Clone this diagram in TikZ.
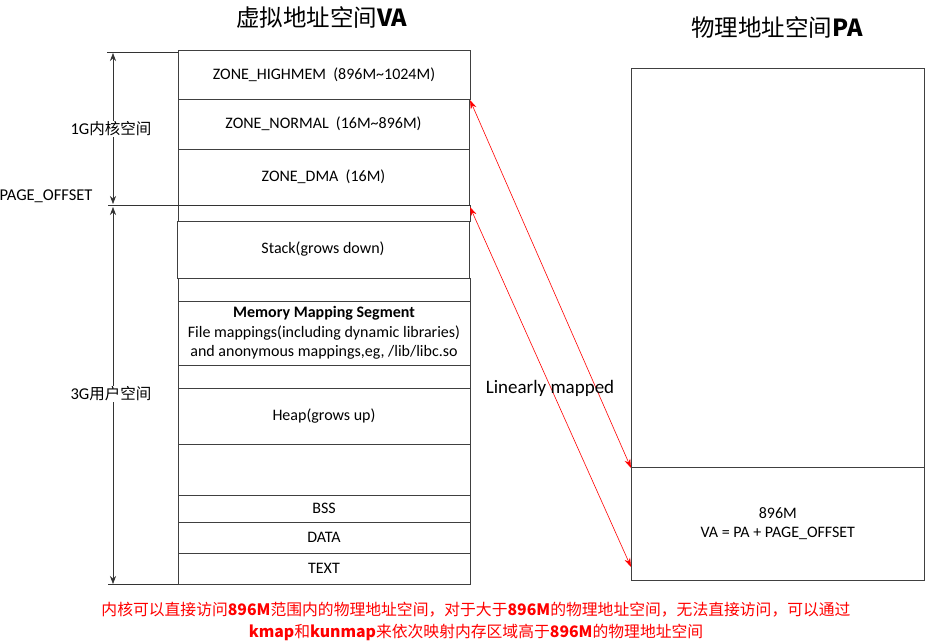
\documentclass[tikz,border=0pt]{standalone}
\usepackage{fontspec}
\setmainfont{Carlito}
\newfontfamily\cjk{Noto Sans CJK SC}
\usetikzlibrary{arrows.meta}
\begin{document}
\begin{tikzpicture}[x=1pt,y=-1pt,
  seg/.style={draw=black!75,fill=white,line width=0.6pt,font=\fontsize{16}{19.5}\selectfont,align=center,inner sep=0pt},
  lbl/.style={font=\fontsize{16.5}{18}\selectfont},
  dim/.style={draw=black!80,line width=0.6pt,-{Stealth[length=8pt,width=6pt]}},
  red/.style={draw=red,line width=0.6pt,{Stealth[length=9pt,width=6pt]}-{Stealth[length=9pt,width=6pt]}}]
\useasboundingbox (0,0) rectangle (927,644);
\fill[white] (0,0) rectangle (927,644);
\node[font=\cjk\fontsize{23.5}{26}\selectfont] (tva) at (322,18) {虚拟地址空间\textbf{VA}};
\node[font=\cjk\fontsize{23.5}{26}\selectfont] (tpa) at (777,28) {物理地址空间\textbf{PA}};
% left column
\node[seg,minimum width=292,minimum height=49] (hm) at (324,74.5) {ZONE\_HIGHMEM\ \ (896M\textasciitilde1024M)};
\node[seg,minimum width=291,minimum height=50] (nm) at (323.5,124) {ZONE\_NORMAL\ \ (16M\textasciitilde896M)};
\node[seg,minimum width=291,minimum height=56] (dm) at (323.5,177) {ZONE\_DMA\ \ (16M)};
\node[seg,minimum width=292,minimum height=16] (g1) at (324,213) {};
\node[seg,minimum width=292,minimum height=57] (st) at (323,249.5) {Stack(grows down)};
\node[seg,minimum width=292,minimum height=23] (g2) at (324,289.5) {};
\node[seg,minimum width=292,minimum height=64] (mm) at (324,333) {\textbf{Memory Mapping Segment}\\File mappings(including dynamic libraries)\\and anonymous mappings,eg, /lib/libc.so};
\node[seg,minimum width=292,minimum height=23] (g3) at (324,376.5) {};
\node[seg,minimum width=292,minimum height=56] (hp) at (324,416) {Heap(grows up)};
\node[seg,minimum width=292,minimum height=51] (g4) at (324,469.5) {};
\node[seg,minimum width=292,minimum height=27] (bss) at (324,508.5) {BSS};
\node[seg,minimum width=292,minimum height=31] (dat) at (324,537.5) {DATA};
\node[seg,minimum width=292,minimum height=31] (txt) at (324,568.5) {TEXT};
% right PA
\node[seg,minimum width=293,minimum height=399,anchor=north west] (pa) at (631,68) {};
\node[seg,minimum width=293,minimum height=113,anchor=north west] (lo) at (631,467) {896M\\VA = PA + PAGE\_OFFSET};
% dimension lines
\coordinate (t1) at (107,52); \coordinate (t1e) at (178,52);
\coordinate (po) at (108,205); \coordinate (poe) at (470,205);
\coordinate (b1) at (108,584); \coordinate (b1e) at (178,584);
\draw[black!80,line width=0.6pt] (t1)--(t1e) (po)--(poe) (b1)--(b1e);
\coordinate (a1) at (113,129); \coordinate (a2) at (113,394);
\draw[dim] (a1)--(113,53);
\draw[dim] (a1)--(113,204);
\draw[dim] (a2)--(113,207);
\draw[dim] (a2)--(113,584);
\node[lbl,fill=white,inner sep=1pt] (l1) at (111,129) {1G{\cjk\fontsize{15.5}{17}\selectfont 内核空间}};
\node[lbl,fill=white,inner sep=1pt] (l3) at (111,394) {3G{\cjk\fontsize{15.5}{17}\selectfont 用户空间}};
\node[lbl] (pol) at (46,196) {PAGE\_OFFSET};
% red mapping arrows
\coordinate (r1) at (470,100); \coordinate (r1e) at (631,468);
\coordinate (r2) at (470,207); \coordinate (r2e) at (631,567);
\draw[red] (r1)--(r1e);
\draw[red] (r2)--(r2e);
\node[font=\fontsize{19}{21}\selectfont] (lm) at (550,388) {Linearly mapped};
% bottom text
\node[text=red,font=\cjk\fontsize{15.8}{22}\selectfont,align=center] (note) at (476,621)
 {内核可以直接访问\textbf{896M}范围内的物理地址空间，对于大于\textbf{896M}的物理地址空间，无法直接访问，可以通过\\\textbf{kmap}和\textbf{kunmap}来依次映射内存区域高于\textbf{896M}的物理地址空间};
\end{tikzpicture}
\end{document}
